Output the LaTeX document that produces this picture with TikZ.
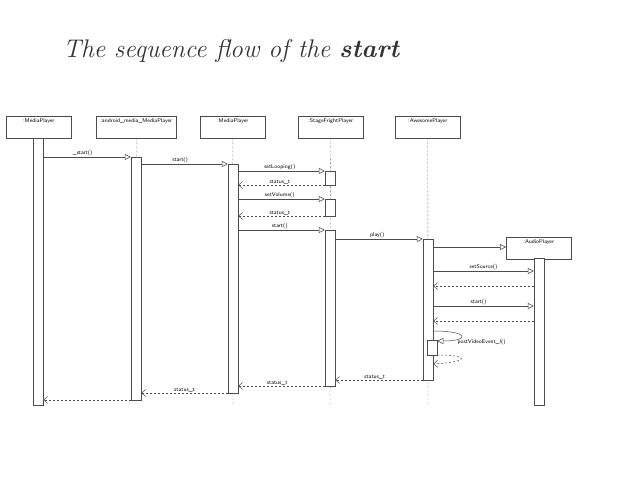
\documentclass[tikz,border=0pt]{standalone}
\usetikzlibrary{arrows.meta}
\begin{document}
\begin{tikzpicture}[x=1pt,y=-1pt,
  hdr/.style={draw=black!70,line width=0.5pt,minimum width=65pt,minimum height=22pt,inner sep=1pt,anchor=north west,font=\fontsize{5.5}{6}\selectfont\sffamily,text depth=13pt,text height=4pt},
  actbox/.style={draw=black!70,fill=white,line width=0.5pt,minimum width=10pt,inner sep=0pt},
  life/.style={draw=black!60,dashed,dash pattern=on 2pt off 2pt,line width=0.4pt},
  msg/.style={draw=black!70,line width=0.5pt,-{Triangle[open,length=6pt,width=6pt]}},
  ret/.style={draw=black!70,line width=0.5pt,dash pattern=on 2pt off 2pt,-{Straight Barb[length=4pt,width=7pt]}},
  lbl/.style={font=\fontsize{5.5}{6}\selectfont\sffamily,inner sep=0.5pt,above}]
\useasboundingbox (0,0) rectangle (638,478);
\node[font=\fontsize{25.5}{30}\selectfont\itshape,anchor=west,text=black!80,inner sep=0pt] (title) at (63,51) {The sequence flow of the \textbf{start}};
\newcommand\actnode[4]{\node[actbox,minimum height={#4-#3}] (#1) at (#2,{(#3+#4)/2}) {};}
% headers
\node[hdr] (h1) at (6,116) {:MediaPlayer};
\node[hdr,minimum width=80pt] (h2) at (96,116) {:android\_media\_MediaPlayer};
\node[hdr] (h3) at (200,116) {:MediaPlayer};
\node[hdr] (h4) at (298,116) {:StageFrightPlayer};
\node[hdr] (h5) at (395,116) {:AwesomePlayer};
% lifelines
\coordinate (e2) at (136,405); \coordinate (e3) at (233,405);
\coordinate (e4) at (330,405); \coordinate (e5) at (428,405);
\draw[life] (h2.south) -- (e2);
\draw[life] (h3.south) -- (e3);
\draw[life] (h4.south) -- (e4);
\draw[life] (h5.south) -- (e5);
% activations
\actnode{a1}{38}{138}{405}
\actnode{a2}{136}{157}{400}
\actnode{a3}{233}{164}{393}
\actnode{a4a}{330}{171}{185}
\actnode{a4b}{330}{199}{216}
\actnode{a4c}{330}{230}{386}
\actnode{a5}{428}{239}{380}
\actnode{a5n}{432}{340}{355}
\node[hdr,anchor=north west] (h6) at (506,237) {:AudioPlayer};
\actnode{a6}{539}{258}{405}
% messages
\draw[msg] (a1.east|-0,157) -- node[lbl,pos=0.45]{\_start()} (a2.west|-0,157);
\draw[msg] (a2.east|-0,164) -- node[lbl,pos=0.45]{start()} (a3.west|-0,164);
\draw[msg] (a3.east|-0,171) -- node[lbl,pos=0.48]{setLooping()} (a4a.west|-0,171);
\draw[ret] (a4a.west|-0,185) -- node[lbl,pos=0.52]{status\_t} (a3.east|-0,185);
\draw[msg] (a3.east|-0,199) -- node[lbl,pos=0.48]{setVolume()} (a4b.west|-0,199);
\draw[ret] (a4b.west|-0,216) -- node[lbl,pos=0.52]{status\_t} (a3.east|-0,216);
\draw[msg] (a3.east|-0,230) -- node[lbl,pos=0.48]{start()} (a4c.west|-0,230);
\draw[msg] (a4c.east|-0,239) -- node[lbl,pos=0.48]{play()} (a5.west|-0,239);
\draw[msg] (a5.east|-0,247) -- (h6.west|-0,247);
\draw[msg] (a5.east|-0,271) -- node[lbl,pos=0.5]{setSource()} (a6.west|-0,271);
\draw[ret] (a6.west|-0,286) -- (a5.east|-0,286);
\draw[msg] (a5.east|-0,306) -- node[lbl,pos=0.45]{start()} (a6.west|-0,306);
\draw[ret] (a6.west|-0,321) -- (a5.east|-0,321);
\draw[msg] (a5.east|-0,331) .. controls (470,331) and (470,341) .. (a5n.east|-0,341);
\node[font=\fontsize{5.5}{6}\selectfont\sffamily,anchor=west] (pv) at (454,342) {postVideoEvent\_l()};
\draw[ret] (a5n.east|-0,355) .. controls (470,355) and (470,362) .. (a5.east|-0,364);
\draw[ret] (a5.west|-0,380) -- node[lbl,pos=0.55]{status\_t} (a4c.east|-0,380);
\draw[ret] (a4c.west|-0,386) -- node[lbl,pos=0.55]{status\_t} (a3.east|-0,386);
\draw[ret] (a3.west|-0,393) -- node[lbl,pos=0.5]{status\_t} (a2.east|-0,393);
\draw[ret] (a2.west|-0,400) -- (a1.east|-0,400);
\end{tikzpicture}
\end{document}
